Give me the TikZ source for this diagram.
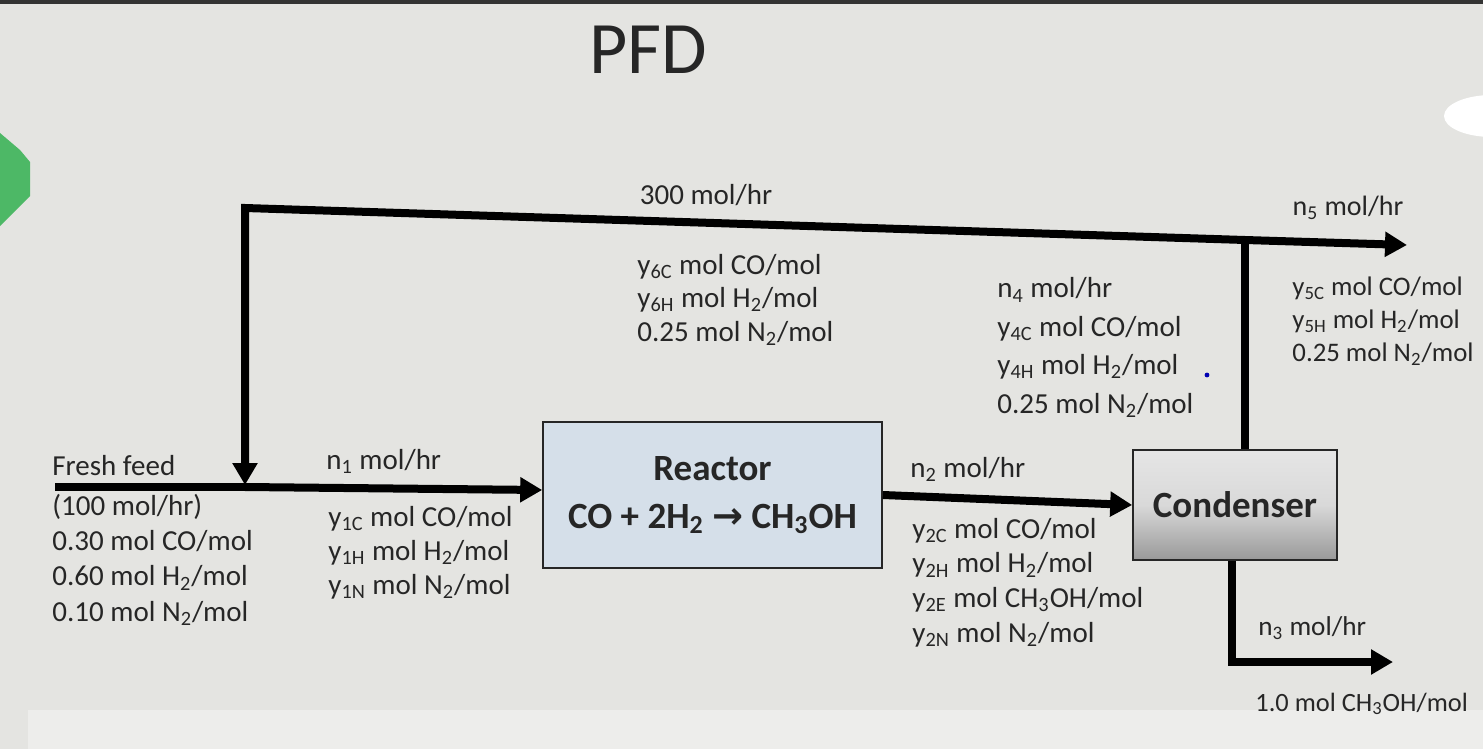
\documentclass[tikz,border=0pt]{standalone}
\usepackage{fontspec}
\setmainfont{Carlito}
\newfontfamily\arrowfont{DejaVu Sans}
\usetikzlibrary{arrows.meta}
\definecolor{bgmain}{HTML}{E4E4E1}
\definecolor{bgbottom}{HTML}{EDEDEB}
\definecolor{reactorfill}{HTML}{D5DFE9}
\definecolor{gtab}{HTML}{4DB866}
\tikzset{
  x=0.5pt, y=-0.5pt,
  pipe/.style={line width=4pt},
  flow/.style={line width=4pt, -{Triangle[length=11pt,width=12pt]}},
  lbl/.style={inner sep=0pt, align=left, anchor=base west, text=black!85},
  unitbox/.style={draw=black!85, line width=0.8pt, inner sep=0pt, align=center,
    font=\fontsize{18.5}{24}\selectfont\bfseries, text=black!85}
}
\begin{document}
\begin{tikzpicture}
\useasboundingbox (0,0) rectangle (1483,749);
% background
\fill[bgmain] (0,0) rectangle (1483,749);
\fill[bgbottom] (28,710) rectangle (1483,749);
\fill[black!80] (0,0) rectangle (1483,4);
\begin{scope}
\clip (0,0) rectangle (1483,749);
\fill[gtab] (0,133) -- (20,150) -- (30,162) -- (30,196) -- (0,226) -- cycle;
\fill[white] (1492,116) ellipse [x radius=48, y radius=21];
\end{scope}
% title
\node[inner sep=0pt, font=\fontsize{37}{44}\selectfont, text=black!85] (title) at (648,50) {PFD};
% units
\node[unitbox, fill=reactorfill, minimum width=169.5pt, minimum height=73pt] (reactor) at (712.5,495)
  {Reactor\\CO + 2H\textsubscript{2} {\arrowfont\bfseries →} CH\textsubscript{3}OH};
\node[unitbox, top color=black!10, bottom color=black!40, middle color=black!15, minimum width=102pt, minimum height=55pt] (cond) at (1235,505)
  {Condenser};
% stream coordinates
\coordinate (feed) at (55,487);
\coordinate (mix) at (245,487);
\coordinate (rtop) at (245,208);
\coordinate (split) at (1245,240);
\coordinate (purge) at (1407,245);
\coordinate (pbend) at (1232,662);
\coordinate (pend) at (1393,662);
% streams
\draw[pipe] (feed) -- (mix);
\draw[flow] (mix) -- ([yshift=-1.5pt]mix -| reactor.west);
\draw[flow, line join=miter] (split) -- (rtop) -- ([yshift=1pt]mix);
\draw[flow] (split) -- (purge);
\draw[pipe] (split |- cond.north) -- (split);
\draw[flow] (reactor.east) -- (cond.west);
\draw[flow, line join=miter] (pbend |- cond.south) -- (pbend) -- (pend);
% labels (multi-line nodes: base = baseline of last line)
\node[lbl, font=\fontsize{14.5}{17}\selectfont] (feedname) at (52,475) {Fresh feed};
\node[lbl, font=\fontsize{14.5}{17.65}\selectfont] (feedlbl) at (52,621)
  {(100 mol/hr)\\0.30 mol CO/mol\\0.60 mol H\textsubscript{2}/mol\\0.10 mol N\textsubscript{2}/mol};
\node[lbl, font=\fontsize{14.5}{17}\selectfont] (n1lbl) at (326,469) {n\textsubscript{1} mol/hr};
\node[lbl, font=\fontsize{14.5}{17}\selectfont] (y1lbl) at (328,594)
  {y\textsubscript{1C} mol CO/mol\\y\textsubscript{1H} mol H\textsubscript{2}/mol\\y\textsubscript{1N} mol N\textsubscript{2}/mol};
\node[lbl, font=\fontsize{14.5}{17}\selectfont, anchor=base] (rlbl) at (706,205) {300 mol/hr};
\node[lbl, font=\fontsize{14.5}{16.75}\selectfont] (y6lbl) at (637,341)
  {y\textsubscript{6C} mol CO/mol\\y\textsubscript{6H} mol H\textsubscript{2}/mol\\0.25 mol N\textsubscript{2}/mol};
\node[lbl, font=\fontsize{14.5}{17}\selectfont] (n2lbl) at (910,477) {n\textsubscript{2} mol/hr};
\node[lbl, font=\fontsize{14.5}{17.3}\selectfont] (y2lbl) at (912,642)
  {y\textsubscript{2C} mol CO/mol\\y\textsubscript{2H} mol H\textsubscript{2}/mol\\y\textsubscript{2E} mol CH\textsubscript{3}OH/mol\\y\textsubscript{2N} mol N\textsubscript{2}/mol};
\node[lbl, font=\fontsize{14.5}{19.2}\selectfont] (n4lbl) at (997,413)
  {n\textsubscript{4} mol/hr\\y\textsubscript{4C} mol CO/mol\\y\textsubscript{4H} mol H\textsubscript{2}/mol\\0.25 mol N\textsubscript{2}/mol};
\node[lbl, font=\fontsize{14}{17}\selectfont, anchor=base] (n5lbl) at (1348,215) {n\textsubscript{5} mol/hr};
\node[lbl, font=\fontsize{13.4}{16.5}\selectfont] (y5lbl) at (1292,361)
  {y\textsubscript{5C} mol CO/mol\\y\textsubscript{5H} mol H\textsubscript{2}/mol\\0.25 mol N\textsubscript{2}/mol};
\node[lbl, font=\fontsize{13.6}{17}\selectfont] (n3lbl) at (1258,635) {n\textsubscript{3} mol/hr};
\node[lbl, font=\fontsize{13.2}{17}\selectfont] (x3lbl) at (1255,711) {1.0 mol CH\textsubscript{3}OH/mol};
\fill[blue!70!black] (1207,375) circle (1.2pt);
\end{tikzpicture}
\end{document}
